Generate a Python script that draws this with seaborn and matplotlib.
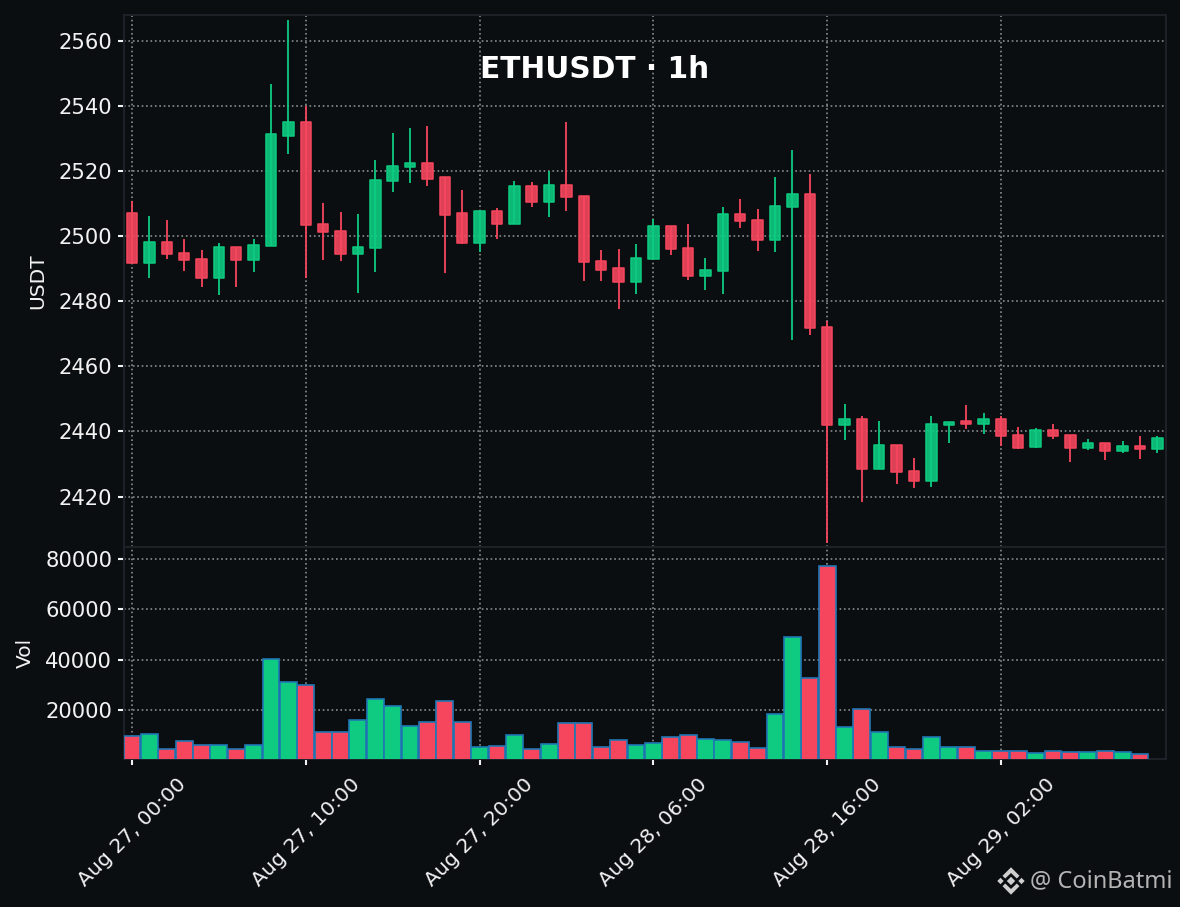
import pandas as pd
import seaborn as sns
import matplotlib.pyplot as plt
from matplotlib.colors import to_rgba
from matplotlib.patches import Polygon

# hourly candles
opens = [2507.0, 2491.8, 2498.1, 2495.0, 2493.1, 2487.2, 2496.8, 2492.7, 2497.0, 2530.9,
         2535.0, 2503.9, 2501.7, 2494.6, 2496.4, 2517.0, 2521.3, 2522.4, 2518.1, 2507.0,
         2497.9, 2507.9, 2503.8, 2515.3, 2510.6, 2515.9, 2512.5, 2492.5, 2490.1, 2485.9,
         2493.0, 2503.3, 2496.5, 2487.8, 2489.3, 2506.7, 2505.1, 2498.9, 2509.0, 2513.1,
         2472.2, 2441.9, 2443.9, 2428.4, 2435.9, 2427.9, 2424.7, 2441.9, 2443.1, 2442.3,
         2443.9, 2439.0, 2435.2, 2440.5, 2439.0, 2434.9, 2436.5, 2434.0, 2435.6, 2434.6]
highs = [2510.8, 2506.2, 2504.9, 2499.1, 2495.7, 2497.8, 2496.8, 2499.1, 2546.8, 2566.5,
         2540.0, 2510.2, 2507.4, 2506.8, 2523.4, 2531.7, 2533.2, 2533.8, 2518.1, 2514.2,
         2507.9, 2508.6, 2516.9, 2516.6, 2520.0, 2535.1, 2512.5, 2495.7, 2496.0, 2497.5,
         2505.2, 2503.3, 2503.7, 2493.2, 2508.9, 2511.4, 2508.3, 2518.2, 2526.5, 2519.1,
         2474.1, 2448.3, 2444.9, 2443.1, 2435.9, 2432.0, 2444.9, 2443.0, 2448.0, 2445.8,
         2444.9, 2441.5, 2441.2, 2442.2, 2439.0, 2437.8, 2436.5, 2437.2, 2438.5, 2438.5]
lows = [2491.8, 2487.1, 2492.9, 2489.2, 2484.3, 2481.8, 2484.3, 2488.9, 2497.0, 2525.2,
        2487.1, 2492.6, 2492.3, 2482.5, 2488.9, 2513.5, 2516.3, 2515.4, 2488.6, 2497.5,
        2495.1, 2499.1, 2503.8, 2508.9, 2505.8, 2507.7, 2486.2, 2486.2, 2477.5, 2482.2,
        2493.0, 2494.2, 2486.5, 2483.4, 2482.2, 2502.5, 2495.4, 2495.1, 2468.0, 2469.8,
        2405.7, 2437.5, 2418.2, 2428.4, 2424.0, 2422.5, 2422.8, 2436.6, 2440.9, 2439.1,
        2435.6, 2434.5, 2434.8, 2437.8, 2430.5, 2434.2, 2431.1, 2433.5, 2431.4, 2433.5]
closes = [2491.8, 2498.1, 2494.6, 2492.7, 2487.2, 2496.8, 2492.7, 2497.4, 2531.3, 2535.0,
          2503.5, 2501.3, 2494.6, 2496.8, 2517.4, 2521.7, 2522.4, 2517.6, 2506.6, 2497.9,
          2507.9, 2503.8, 2515.3, 2510.6, 2515.9, 2512.1, 2492.1, 2489.6, 2485.9, 2493.4,
          2503.3, 2496.1, 2487.8, 2489.7, 2506.7, 2504.7, 2498.9, 2509.4, 2513.1, 2471.8,
          2441.9, 2443.9, 2428.4, 2435.9, 2427.5, 2424.7, 2442.4, 2443.0, 2442.3, 2443.9,
          2438.6, 2434.9, 2440.5, 2438.6, 2434.9, 2436.5, 2434.0, 2435.6, 2434.6, 2438.0]
# last candle shows no volume bar in the picture
volumes = [9800, 10330, 4630, 7540, 6220, 6220, 4630, 6220, 40400, 31260,
           29800, 11400, 11400, 16160, 24500, 21460, 13400, 15100, 23700, 15360,
           5400, 5800, 9930, 4630, 6350, 14700, 14700, 5400, 8200, 6200,
           7000, 9100, 10200, 8600, 8200, 7400, 5000, 18300, 49150, 32850,
           77100, 13000, 20530, 11400, 5400, 4630, 9400, 5400, 5400, 3830,
           3830, 3830, 3040, 3830, 3440, 3440, 3830, 3440, 2640, 0]

tick_labels = ["Aug 27, 00:00", "Aug 27, 10:00", "Aug 27, 20:00",
               "Aug 28, 06:00", "Aug 28, 16:00", "Aug 29, 02:00"]
price_ticks = [2420, 2440, 2460, 2480, 2500, 2520, 2540, 2560]
vol_ticks = [20000, 40000, 60000, 80000]

BG = "#0b0e11"
SPINE = "#1e2329"
GREEN = "#0ecb81"
RED = "#f6465d"
TEXT = "#f2f2f2"

sns.set_theme(style="dark", rc={
    "figure.facecolor": BG,
    "axes.facecolor": BG,
    "axes.edgecolor": SPINE,
    "axes.linewidth": 1.4,
    "axes.labelcolor": TEXT,
    "xtick.color": TEXT,
    "ytick.color": TEXT,
    "text.color": TEXT,
    "xtick.bottom": True,
    "ytick.left": True,
    "xtick.major.size": 4.5,
    "ytick.major.size": 4.5,
    "xtick.major.width": 1.5,
    "ytick.major.width": 1.5,
    "axes.grid": True,
    "grid.color": "#8a8d90",
    "grid.linestyle": ":",
    "grid.linewidth": 1.2,
})
plt.rcParams["font.family"] = ["DejaVu Sans"]

df = pd.DataFrame({"idx": range(len(opens)), "open": opens, "high": highs,
                   "low": lows, "close": closes, "volume": volumes})
df["dir"] = ["up" if c >= o else "down" for o, c in zip(df["open"], df["close"])]
palette = {"up": GREEN, "down": RED}
colors = df["dir"].map(palette)

W, H = 1180, 907
fig = plt.figure(figsize=(W / 100, H / 100), dpi=100)
ax = fig.add_axes([124 / W, 1 - 547 / H, 1042 / W, 532 / H])
ax_vol = fig.add_axes([124 / W, 1 - 759 / H, 1042 / W, 212 / H], sharex=ax)

# candles: see-through fill, solid edge
ax.vlines(df["idx"], df["low"], df["high"], colors=colors, linewidth=1.3, zorder=3)
ax.bar(df["idx"], (df["close"] - df["open"]).abs(), bottom=df[["open", "close"]].min(axis=1),
       width=0.6, color=[to_rgba(c, 0.9) for c in colors], edgecolor=list(colors),
       linewidth=1.1, joinstyle="round", zorder=4)

# volume
sns.barplot(data=df, x="idx", y="volume", hue="dir", palette=palette, dodge=False,
            native_scale=True, width=0.97, saturation=1, edgecolor="#1f77b4", linewidth=1.2,
            legend=False, ax=ax_vol, zorder=3)

ax.set_ylim(2404.5, 2568)
ax.set_yticks(price_ticks)
ax.set_ylabel("USDT", fontsize=14.5)
ax.yaxis.set_label_coords((47 - 124) / 1042, 0.5)
ax.tick_params(axis="x", which="both", length=0, labelbottom=False)
ax.tick_params(axis="y", labelsize=15.2, pad=4)

ax_vol.set_xlim(-0.46, 59.5)
ax_vol.set_ylim(470, 84780)
ax_vol.set_xticks(range(0, 60, 10))
ax_vol.set_xticklabels(tick_labels, rotation=45, ha="center", fontsize=14.7)
ax_vol.set_yticks(vol_ticks)
ax_vol.set_xlabel("")
ax_vol.set_ylabel("Vol", fontsize=14.5)
ax_vol.yaxis.set_label_coords((35 - 124) / 1042, 0.5)
ax_vol.tick_params(axis="y", labelsize=15.2, pad=4)
ax_vol.tick_params(axis="x", pad=7)
ax_vol.set_axisbelow(True)

fig.text(594.5 / W, 1 - 69 / H, "ETHUSDT · 1h", ha="center", va="center",
         fontsize=21.3, fontweight="bold", color="white")

# watermark
fig.text(1030 / W, 1 - 881 / H, "@ CoinBatmi", ha="left", va="center", fontsize=17,
         family="Noto Sans", color="#b4b4b4")
cx, cy = 1011, H - 881
logo = [
    [(0, 4.2), (4.2, 0), (0, -4.2), (-4.2, 0)],
    [(-10.5, 3.2), (-7.3, 0), (-10.5, -3.2), (-13.7, 0)],
    [(10.5, 3.2), (7.3, 0), (10.5, -3.2), (13.7, 0)],
    [(0, 13.7), (8.5, 5.2), (5.8, 2.5), (0, 8.0), (-5.8, 2.5), (-8.5, 5.2)],
    [(0, -13.7), (8.5, -5.2), (5.8, -2.5), (0, -8.0), (-5.8, -2.5), (-8.5, -5.2)],
]
for pts in logo:
    fig.add_artist(Polygon([(cx + px, cy + py) for px, py in pts], closed=True,
                           facecolor="#cfcfcf", edgecolor="none", transform=None))

plt.savefig("out.png", dpi=100, facecolor=BG)
plt.close()
